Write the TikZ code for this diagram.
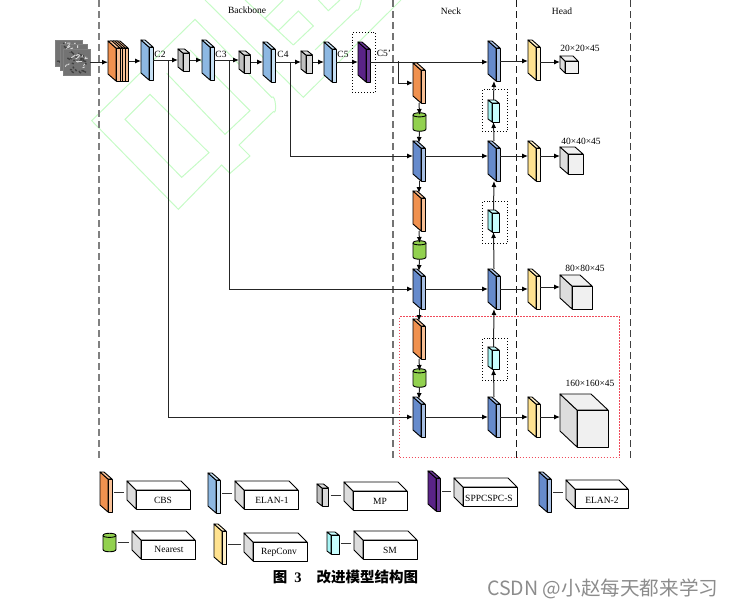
\documentclass[tikz,border=0pt]{standalone}
\usepackage{fontspec}
\setmainfont{Liberation Serif}
\newfontfamily\cjk{Noto Sans CJK SC}
\usetikzlibrary{arrows.meta}

\definecolor{orangeL}{HTML}{F0914F}
\definecolor{orangeS}{HTML}{F8C096}
\definecolor{elanoneL}{HTML}{8DB8E2}
\definecolor{elanoneS}{HTML}{C6E0F4}
\definecolor{elantwoL}{HTML}{668BCC}
\definecolor{elantwoS}{HTML}{A8C0E4}
\definecolor{sppcL}{HTML}{5A2387}
\definecolor{sppcS}{HTML}{6B3A96}
\definecolor{repL}{HTML}{FFE28F}
\definecolor{repS}{HTML}{FFF1CB}
\definecolor{mpL}{HTML}{BFBFBF}
\definecolor{mpS}{HTML}{D9D9D9}
\definecolor{smL}{HTML}{A8F5F5}
\definecolor{smS}{HTML}{C8FFFF}
\definecolor{cubeL}{HTML}{DDDDDD}
\definecolor{cubeS}{HTML}{F0F0F0}
\definecolor{nearestC}{HTML}{92D14F}
\definecolor{markC}{HTML}{C6FBC6}
\definecolor{redboxC}{HTML}{F04A5A}

\tikzset{
    lbl/.style={font=\fontsize{9.5}{11}\selectfont, inner sep=0pt},
    blockbox/.style={inner sep=0pt, outer sep=0pt, anchor=north west},
    conn/.style={draw, line width=1pt, black!85, -{Latex[length=6pt,width=5pt,black]}},
    plain/.style={draw, line width=1pt, black!80},
    dotbox/.style={draw, dotted, line width=.9pt, inner sep=0pt, anchor=north west},
    divider/.style={dashed, dash pattern=on 7pt off 4pt},
    photo/.style={draw=gray, fill=black!55, inner sep=0pt, anchor=north west, minimum width=27pt, minimum height=26pt},
}

% name, top left, width, height, depth x, depth y, side colour, front colour
\newcommand{\block}[8]{
    \node[blockbox, minimum width=#3pt, minimum height=#4pt] (#1) at (#2) {};
    \begin{scope}[shift={(#1.north west)}, line width=.9pt, line join=round]
        \filldraw[fill=#7] (0,0) -- (#5,#6) -- (#5,#4) -- (0,#4-#6) -- cycle;
        \filldraw[fill=#8] (0,0) -- (#3-#5,0) -- (#3,#6) -- (#5,#6) -- cycle;
        \filldraw[fill=#8] (#5,#6) -- (#3,#6) -- (#3,#4) -- (#5,#4) -- cycle;
    \end{scope}
}
\newcommand{\slab}[4]{\block{#1}{#2}{12}{40}{8}{7}{#3}{#4}}
\newcommand{\smallblock}[4]{\block{#1}{#2}{11.5}{22}{5}{4}{#3}{#4}}
\newcommand{\drum}[2]{
    \node[blockbox, anchor=center, minimum width=13pt, minimum height=18pt] (#1) at (#2) {};
    \begin{scope}[shift={(#1.center)}, line width=.9pt]
        \filldraw[fill=nearestC] (-6.5,-7) -- (-6.5,7) .. controls (-6.5,10) and (6.5,10) .. (6.5,7)
            -- (6.5,-7) .. controls (6.5,-10) and (-6.5,-10) .. cycle;
        \draw (-6.5,-7) .. controls (-6.5,-4.5) and (6.5,-4.5) .. (6.5,-7);
    \end{scope}
}

\begin{document}
\begin{tikzpicture}[x=1pt, y=-1pt]
\useasboundingbox (0,0) rectangle (730,608);

% background mark
\begin{scope}[shift={(85,0)}, x=1/3pt, y=-1/3pt, markC, line width=1pt]
    \draw (20,362) -- (330,58) -- (560,292) to[out=45,in=-45] (565,335) -- (462,435) -- (495,468) -- (435,520) -- (410,495) -- (280,628) -- cycle;
    \draw (195,283) -- (372,458) -- (290,532) -- (120,358) -- cycle;
    \draw (245,220) -- (420,403) -- (495,332) -- (315,150);
    \draw (360,0) -- (655,292) -- (948,0);
    \draw (480,0) -- (625,135);
    \draw (595,0) -- (540,55) -- (580,92) -- (640,33) -- (685,78) -- (625,135);
    \draw (700,0) -- (730,32) -- (765,0);
    \draw (830,0) to[out=90,in=-45] (815,30) -- (690,150);
\end{scope}

% dividers
\foreach \x/\c/\w in {99/black!50/1.5pt, 393/black!55/1.4pt, 516/black!90/1pt, 630/black!75/1pt}
    \draw[divider, \c, line width=\w] (\x,0) -- (\x,458);

\node[lbl] (backbone) at (247,10) {Backbone};
\node[lbl] (neck) at (451,11) {Neck};
\node[lbl] (head) at (562,11) {Head};

% input
\foreach \i/\x/\y in {1/55/40, 2/60/44, 3/63/49} {
    \node[photo] (img\i) at (\x,\y) {};
    \pgfmathsetseed{\i7}
    \foreach \k in {1,...,24}
        \draw[line width=1.4pt, black!75, shift={(img\i.north west)}] ({2+rnd*22},{2+rnd*22}) -- ++({rnd*4},{rnd*3});
    \foreach \k in {1,...,14}
        \draw[line width=.9pt, white!70!gray, shift={(img\i.north west)}] ({2+rnd*22},{2+rnd*22}) -- ++({rnd*4},{-rnd*3});
}

% backbone
\foreach \i/\x in {4/116, 3/113.4, 2/110.7, 1/108} {
    \slab{stem\i}{\x,41}{orangeL}{orangeS}
}
\foreach \name/\x/\y in {ea/141/40, eb/202/40, ec/263/42, ed/324/42} {
    \slab{\name}{\x,\y}{elanoneL}{elanoneS}
}
\foreach \name/\x/\y in {ma/178/49, mb/239/51, mc/301/51} {
    \smallblock{\name}{\x,\y}{mpL}{mpS}
}
\slab{sppc}{358,42}{sppcL}{sppcS}
\node[dotbox, minimum width=23pt, minimum height=60pt] (sppcbox) at (352,32) {};

\node[lbl] (c2) at (160,54) {C2};
\node[lbl] (c3) at (221,54) {C3};
\node[lbl] (c4) at (283,54) {C4};
\node[lbl] (c5) at (343,54) {C5};
\node[lbl] (c5p) at (384,53) {C5'};

% neck
\foreach \name/\y in {na/63, nb/191, nc/319} {
    \slab{\name}{413,\y}{orangeL}{orangeS}
}
\foreach \name/\y in {ua/141, ub/269, uc/397} {
    \slab{\name}{413,\y}{elantwoL}{elantwoS}
}
\foreach \name/\y in {ra/41, rb/141, rc/269, rd/397} {
    \slab{\name}{488,\y}{elantwoL}{elantwoS}
}
\foreach \name/\y in {ga/122, gb/250, gc/378} {
    \drum{\name}{419.5,\y}
}
\foreach \name/\y/\by in {sa/100/89, sb/210/201, sc/347/338} {
    \block{\name}{488,\y}{11}{22}{4}{3}{smL}{smS}
    \node[dotbox, minimum width=25pt, minimum height=42pt] (\name box) at (482,\by) {};
}

% head
\foreach \name/\y in {ya/40, yb/141, yc/269, yd/397} {
    \slab{\name}{528,\y}{repL}{repS}
}
\block{cubea}{560,56}{18}{17}{5}{5}{cubeL}{cubeS}
\block{cubeb}{560,147}{23}{27}{8}{7}{cubeL}{cubeS}
\block{cubec}{560,275}{32}{34}{12}{11}{cubeL}{cubeS}
\block{cubed}{560,394}{48}{53}{17}{16}{cubeL}{cubeS}
\node[lbl] (sizea) at (580,48) {20×20×45};
\node[lbl] (sizeb) at (581,141) {40×40×45};
\node[lbl] (sizec) at (585,268) {80×80×45};
\node[lbl] (sized) at (590,383) {160×160×45};

\node[draw=redboxC, dash pattern=on 1.4pt off 1.6pt, line width=1pt, inner sep=0pt, anchor=north west,
    minimum width=220pt, minimum height=141pt] (redbox) at (399,316) {};

% backbone arrows
\draw[conn] (img3.east) -- (img3.east -| stem1.west);
\draw[conn] (stem4.east) -- (stem4.east -| ea.west);
\foreach \a/\b in {ea/ma, ma/eb, eb/mb, mb/ec, ec/mc, mc/ed, ed/sppc, sppc/ra} {
    \draw[conn] (\a.east) -- (\a.east -| \b.west);
}

% branches
\coordinate (bc2) at (168,60);
\coordinate (bc3) at (229,60);
\coordinate (bc4) at (290,62);
\coordinate (bc5) at (398,61);
\draw[conn] (bc2) |- (uc.west);
\draw[conn] (bc3) |- (ub.west);
\draw[conn] (bc4) |- ([yshift=5pt]ua.west);
\draw[conn] (bc5) |- (na.west);

% neck arrows
\foreach \a/\b in {na/ga, ga/ua, ua/nb, nb/gb, gb/ub, ub/nc, nc/gc, gc/uc} {
    \draw[conn, shorten >=-2pt] (\a.south) -- (\b.north);
}
\draw[conn] ([yshift=5pt]ua.east) -- ([yshift=5pt]rb.west);
\foreach \a/\b in {ub/rc, uc/rd} {
    \draw[conn] (\a.east) -- (\b.west);
}
\foreach \a/\b/\c in {rd/sc/rc, rc/sb/rb, rb/sa/ra} {
    \draw[conn] (\a.north) -- (\b.south);
    \draw[conn] (\b.north) -- (\c.south);
}

% head arrows
\draw[conn] (ra.east) -- (ra.east -| ya.west);
\draw[conn] ([yshift=-2pt]ya.east) -- ([yshift=-2pt]ya.east -| cubea.west);
\draw[conn] ([yshift=5pt]rb.east) -- ([yshift=5pt]yb.west);
\draw[conn] ([yshift=5pt]yb.east) -- ([yshift=5pt]yb.east -| cubeb.west);
\draw[conn] (rc.east) -- (yc.west);
\draw[conn] ([yshift=2pt]yc.east) -- ([yshift=2pt]yc.east -| cubec.west);
\draw[conn] (rd.east) -- (yd.west);
\draw[conn] (yd.east) -- (yd.east -| cubed.west);

% legend
\slab{lcbs}{100,472}{orangeL}{orangeS}
\slab{lea}{208,473}{elanoneL}{elanoneS}
\smallblock{lmp}{317,484}{mpL}{mpS}
\slab{lsp}{428,471}{sppcL}{sppcS}
\slab{leb}{539,472}{elantwoL}{elantwoS}
\drum{lnr}{109.5,542.5}
\slab{lrc}{214,524}{repL}{repS}
\block{lsm}{327,532}{12}{22}{4}{3}{smL}{smS}

\foreach \name/\x/\y/\w/\txt/\tx/\ty in {
    lcbs/127/481/63/CBS/163/500,
    lea/235/481/63/ELAN-1/272/500,
    lmp/344/482/63/MP/380/501,
    lsp/454/478/63/SPPCSPC-S/489/498,
    leb/566/480/62/ELAN-2/602/500,
    lnr/132/531/63/Nearest/169/549,
    lrc/244/533/63/RepConv/279/552,
    lsm/354/531/63/SM/390/550} {
    \block{\name box}{\x,\y}{\w}{28}{9}{9}{cubeL}{white}
    \node[lbl] (\name text) at (\tx,\ty) {\txt};
    \draw[plain, shorten <=2pt, shorten >=3pt] (\name.east) -- (\name.east -| \name box.west);
}

\node[inner sep=0pt] (caption) at (345.5,577) {\cjk\bfseries\fontsize{14.5}{16}\selectfont 图\hspace{7pt}{\rmfamily 3}\hspace{15pt}改进模型结构图};
\node[inner sep=0pt, anchor=west, text=black!45] (csdn) at (487,589) {\cjk\fontsize{19.6}{22}\selectfont CSDN @小赵每天都来学习};

\end{tikzpicture}
\end{document}
